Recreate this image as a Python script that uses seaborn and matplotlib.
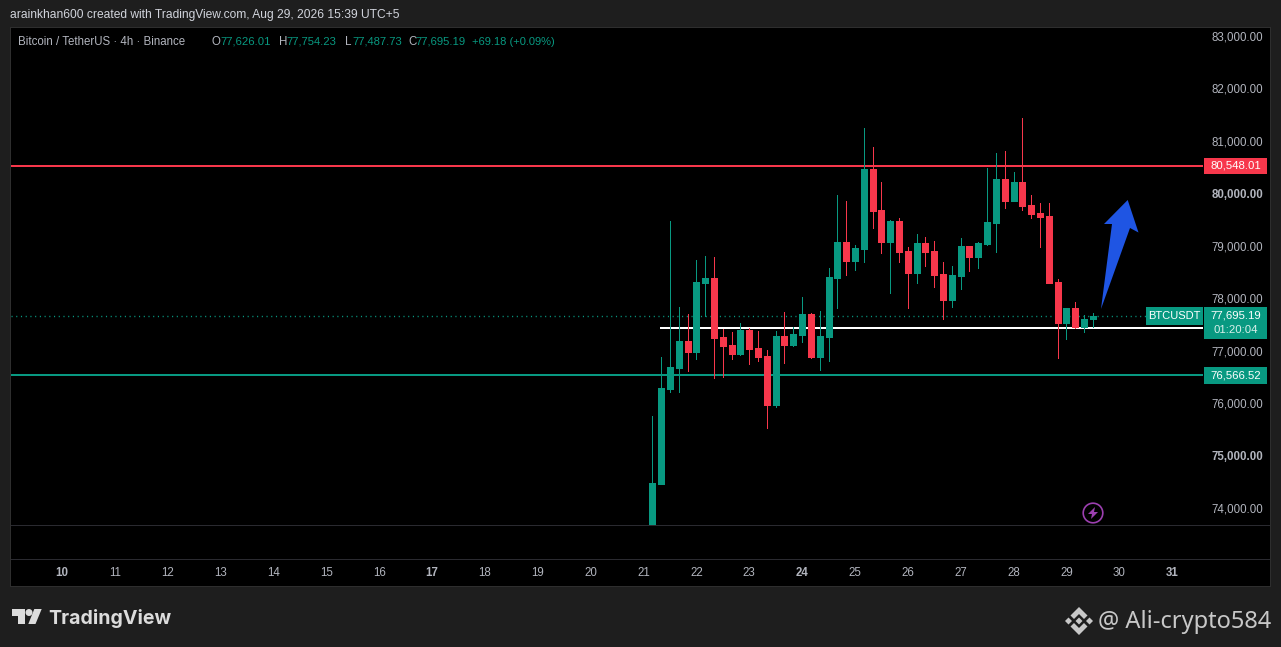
import numpy as np
import pandas as pd
import seaborn as sns
import matplotlib
matplotlib.use("Agg")
import matplotlib.pyplot as plt
from matplotlib.patches import Polygon, Circle, Rectangle, Ellipse
from matplotlib.transforms import ScaledTranslation

# ---------- data ----------
opens = [73700,74490,76300,76700,77220,77010,78320,78420,77290,77140,76970,77420,77080,76930,75990,77310,77140,77330,77730,76910,77290,78420,79100,78740,78970,80500,79710,79100,79500,78930,78510,79080,78930,78490,78000,78450,79030,78820,79060,79470,80300,79880,80250,79810,79660,79600,78340,77560,77840,77480,77626.01]
highs = [75780,76910,79500,77860,77730,78760,78840,78820,77440,77390,77560,77460,77410,77040,77410,77770,77480,78050,77750,77790,78610,80000,79880,79050,81280,80910,80250,79520,79560,79010,79260,79200,79120,78720,78650,79180,79030,79100,80510,80800,80840,80440,81470,80000,79850,79850,78400,77840,77960,77710,77754.23]
lows = [73700,74490,76240,76240,76640,76870,77690,76510,76530,76870,76950,76780,76830,75560,75960,76800,77120,77200,76890,76660,76830,77840,78470,78570,78720,79370,78890,78130,78720,77840,78320,78650,78240,77630,77860,78210,78550,78610,79050,78910,79750,79880,79710,79560,79010,78320,76890,77250,77460,77390,77487.73]
closes = [74510,76320,76720,77220,77010,78340,78420,77270,77120,76970,77420,77060,76910,75990,77310,77140,77350,77730,76910,77310,78440,79100,78740,78990,80500,79690,79100,79500,78910,78510,79080,78910,78470,78000,78470,79030,78820,79080,79480,80300,79880,80250,79790,79640,79580,78320,77560,77840,77480,77630,77695.19]

resistance = 80548.01
support = 76566.52
last_price = 77695.19
white_level = 77460
y_ticks = [74000,75000,76000,77000,78000,79000,80000,81000,82000,83000]
y_bold = [75000,80000]
day_labels = [10,11,12,13,14,15,16,17,18,19,20,21,22,23,24,25,26,27,28,29,30,31]
day_bold = [10,17,24,31]

GREEN = "#089981"
RED = "#f7374b"
BG = "#1e1e1e"
TXT = "#b2b5be"
SEP = "#2a2a30"

W, H = 1281, 647
sns.set_theme(style="dark", rc={"axes.grid": False})
plt.rcParams["font.family"] = ["Liberation Sans", "DejaVu Sans"]

fig = plt.figure(figsize=(W / 100, H / 100), dpi=100, facecolor=BG)

def px(x, y):
    return x / W, 1 - y / H

def rect_axes(l, t, r, b):
    return fig.add_axes([l / W, 1 - b / H, (r - l) / W, (b - t) / H])

def ftext(x, y, s, **kw):
    kw.setdefault("va", "center")
    kw.setdefault("color", TXT)
    kw.setdefault("fontsize", 8.2)
    return fig.text(*px(x, y), s, **kw)

def fpoly(points, **kw):
    fig.add_artist(Polygon([px(*p) for p in points], closed=True, transform=fig.transFigure, lw=0, **kw))

def frect(l, t, r, b, color, z=5):
    fig.add_artist(Rectangle(px(l, b), (r - l) / W, (b - t) / H, transform=fig.transFigure,
                             facecolor=color, edgecolor="none", zorder=z))

# panel background
frect(11, 28, 1270, 586, "#000000", z=0)
frect(10, 27, 1271, 28, "#2e2e2e", z=0)
frect(10, 586, 1271, 587, "#2e2e2e", z=0)
frect(10, 27, 11, 587, "#2e2e2e", z=0)
frect(1270, 27, 1271, 587, "#2e2e2e", z=0)
frect(11, 525, 1270, 526, SEP, z=1)
frect(11, 559, 1270, 560, SEP, z=1)

ax = rect_axes(11, 28, 1203, 525)
ax.patch.set_alpha(0)
for s in ax.spines.values():
    s.set_visible(False)

# candles as long table
idx = np.arange(len(opens))
direction = np.where(np.array(closes) >= np.array(opens), "up", "down")
wick = pd.DataFrame({
    "candle": np.tile(idx, 2), "dir": np.tile(direction, 2),
    "price": np.r_[lows, highs],
})
body = pd.DataFrame({
    "candle": np.tile(idx, 2), "dir": np.tile(direction, 2),
    "price": np.r_[opens, closes],
})
pal = {"up": GREEN, "down": RED}

ax.axhline(resistance, color=RED, lw=1.45, zorder=1)
ax.axhline(support, color=GREEN, lw=1.45, zorder=1)
ax.axhline(last_price, color=GREEN, lw=1.0, ls=(0, (0.8, 2.6)), zorder=1)

sns.lineplot(data=wick, x="candle", y="price", hue="dir", units="candle", estimator=None, sort=False,
             palette=pal, lw=0.72, legend=False, ax=ax, solid_capstyle="butt", zorder=3, antialiased=False)
sns.lineplot(data=body, x="candle", y="price", hue="dir", units="candle", estimator=None, sort=False,
             palette=pal, lw=5.04, legend=False, ax=ax, solid_capstyle="butt", zorder=4, antialiased=False)

x0, dx = 652.3, 8.81
ax.set_xlim((11 - x0) / dx, (1203 - x0) / dx)
ppu = 472 / 9000
y74 = 509.6
ax.set_ylim(74000 + (y74 - 525) / ppu, 74000 + (y74 - 28) / ppu)
ax.plot([0.87, 70], [white_level, white_level], color="white", lw=1.45, zorder=2, solid_capstyle="butt")

ax.set_xlabel("")
ax.set_ylabel("")
ax.set_xticks([(d - 21) * 6 - 1 for d in day_labels])
ax.set_xticklabels([str(d) for d in day_labels], va="center")
ax.tick_params(axis="x", length=0, pad=34.7, labelsize=8.3, colors=TXT)
for lab, d in zip(ax.get_xticklabels(), day_labels):
    if d in day_bold:
        lab.set_fontweight("bold")
ax.yaxis.tick_right()
ax.set_yticks(y_ticks)
ax.set_yticklabels([f"{v:,.2f}" for v in y_ticks])
ax.tick_params(axis="y", length=0, pad=6.0, labelsize=8.3, colors=TXT)
up = ScaledTranslation(0, 1.6 / 100, fig.dpi_scale_trans)
for lab, v in zip(ax.get_yticklabels(), y_ticks):
    lab.set_transform(lab.get_transform() + up)
    if v in y_bold:
        lab.set_fontweight("bold")

# price tags
frect(1204, 158, 1267, 174, RED, z=6)
ftext(1235.5, 166, f"{resistance:,.2f}", color="white", ha="center", zorder=7)
frect(1204, 367, 1267, 384, GREEN, z=6)
ftext(1235.5, 375.5, f"{support:,.2f}", color="white", ha="center", zorder=7)
frect(1204, 307, 1267, 339, GREEN, z=6)
ftext(1235.5, 315.5, f"{last_price:,.2f}", color="white", ha="center", zorder=7)
ftext(1235.5, 330, "01:20:04", color="#d8f0ea", ha="center", zorder=7)
frect(1146, 307, 1203, 325, GREEN, z=6)
ftext(1174.5, 316, "BTCUSDT", color="white", ha="center", zorder=7, fontsize=8.0)

# arrow
fpoly([(1127.7, 200), (1138.5, 232.5), (1130, 228), (1101, 309), (1112, 224), (1104, 224)],
      color="#1f55e3", zorder=8)

# lightning badge
badge = fig.add_axes([(1082) / W, 1 - 524 / H, 22 / W, 22 / H])
badge.set_xlim(-11, 11)
badge.set_ylim(-11, 11)
badge.axis("off")
badge.patch.set_alpha(0)
badge.add_patch(Circle((0, 0), 9.8, fill=False, edgecolor="#9c3fb0", lw=1.2))
badge.add_patch(Polygon([(2, 6), (-5, -1), (-1, -1), (-2, -6), (5, 1), (1, 1)], closed=True,
                        facecolor="#9c3fb0", edgecolor="none"))

# header
ftext(10, 15, "arainkhan600 created with TradingView.com, Aug 29, 2026 15:39 UTC+5", fontsize=8.65, color="#d1d4dc")
ftext(18, 42, "Bitcoin / TetherUS · 4h · Binance", fontsize=8.3)
for xl, l, xv, v in [(211.5, "O", 220, "77,626.01"), (278.5, "H", 286.5, "77,754.23"),
                     (344.5, "L", 352, "77,487.73"), (408, "C", 415.5, "77,695.19")]:
    ftext(xl, 42, l, fontsize=8.3)
    ftext(xv, 42, v, fontsize=8.1, color=GREEN)
ftext(472.5, 42, "+69.18 (+0.09%)", fontsize=8.0, color=GREEN)

# TradingView logo
LOGO = "#dcdcdc"
fpoly([(12, 609), (25, 609), (25, 624), (18, 624), (18, 616), (12, 616)], color=LOGO)
fig.add_artist(Ellipse(px(29, 612.5), 7 / W, 7 / H, transform=fig.transFigure, facecolor=LOGO, edgecolor="none"))
fpoly([(28.3, 624), (35.5, 624), (41.7, 609), (34.3, 609)], color=LOGO)
ftext(48.5, 618, "TradingView", fontsize=14.1, fontweight="bold", color=LOGO, family=["Inter", "DejaVu Sans"])

# Binance watermark
WM = "#c8c8c8"
cx, cy = 1079, 621
fpoly([(cx, cy - 14), (cx + 8.5, cy - 5.5), (cx + 5, cy - 2), (cx, cy - 7), (cx - 5, cy - 2), (cx - 8.5, cy - 5.5)], color=WM)
fpoly([(cx, cy + 14), (cx + 8.5, cy + 5.5), (cx + 5, cy + 2), (cx, cy + 7), (cx - 5, cy + 2), (cx - 8.5, cy + 5.5)], color=WM)
fpoly([(cx, cy - 3.5), (cx + 3.5, cy), (cx, cy + 3.5), (cx - 3.5, cy)], color=WM)
fpoly([(cx - 10.5, cy - 3.5), (cx - 7, cy), (cx - 10.5, cy + 3.5), (cx - 14, cy)], color=WM)
fpoly([(cx + 10.5, cy - 3.5), (cx + 14, cy), (cx + 10.5, cy + 3.5), (cx + 7, cy)], color=WM)
ftext(1098, 622.5, "@ Ali-crypto584", fontsize=17.0, color=WM, family=["Noto Sans", "DejaVu Sans"])

fig.savefig("out.png", dpi=100, facecolor=BG)
